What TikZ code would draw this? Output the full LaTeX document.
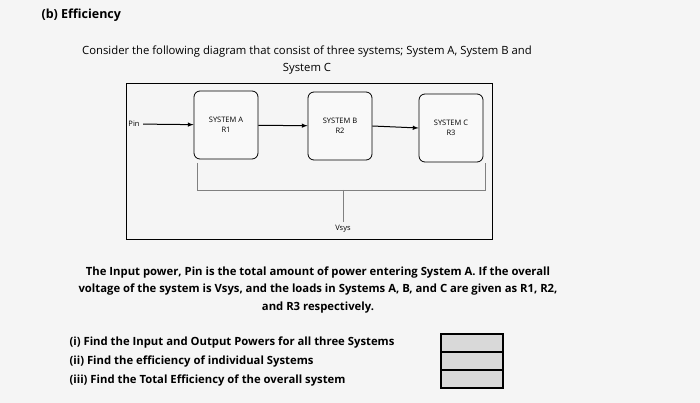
\documentclass[tikz,border=0pt]{standalone}
\usepackage{fontspec}
\setmainfont{Open Sans}
\begin{document}
\begin{tikzpicture}[x=1pt,y=-1pt,
  sys/.style={draw,rounded corners=6pt,line width=0.8pt,minimum width=64pt,minimum height=68pt,align=center,font=\fontsize{7.5}{10}\selectfont,fill=white!95!gray},
  arr/.style={-latex,line width=1pt},
  txt/.style={font=\fontsize{11.3}{17}\selectfont},
  btxt/.style={font=\fontsize{11.3}{17.5}\selectfont\bfseries}]
\fill[gray!8] (0,0) rectangle (700,403);
\useasboundingbox (0,0) rectangle (700,403);
\node[anchor=west,font=\fontsize{12.5}{14}\selectfont\bfseries] (title) at (38,15) {(b) Efficiency};
\node[txt,align=center] (intro) at (307,60) {Consider the following diagram that consist of three systems; System A, System B and\\System C};
\node[draw,line width=0.8pt,minimum width=366pt,minimum height=156pt] (frame) at (309,161) {};
\node[sys] (A) at (226,125) {SYSTEM A\\R1};
\node[sys] (B) at (340,126) {SYSTEM B\\R2};
\node[sys] (C) at (451,128) {SYSTEM C\\R3};
\node[font=\fontsize{7.5}{9}\selectfont] (pin) at (134,124) {Pin};
\draw[arr] (pin) -- (A);
\draw[arr] (A) -- (B);
\draw[arr] (B.east) -- (C.west);
\node[font=\fontsize{7.5}{9}\selectfont] (vsys) at (343,229) {Vsys};
\draw[gray,line width=0.6pt] (197,163) -- (197,190) -- (485,190) -- (485,163);
\draw[gray,line width=0.6pt] (343,190) -- (vsys.north);
\node[btxt,align=center] (para) at (318,290) {The Input power, Pin is the total amount of power entering System A. If the overall\\voltage of the system is Vsys, and the loads in Systems A, B, and C are given as R1, R2,\\and R3 respectively.};
\node[align=left,anchor=west,font=\fontsize{11.3}{19}\selectfont\bfseries] (q) at (66,362) {(i) Find the Input and Output Powers for all three Systems\\(ii) Find the efficiency of individual Systems\\(iii) Find the Total Efficiency of the overall system};
\foreach \i/\y in {1/333,2/351,3/369}
  \node[draw,line width=1.6pt,fill=gray!30,minimum width=62pt,minimum height=18pt,anchor=north west] (t\i) at (440,\y) {};
\end{tikzpicture}
\end{document}
